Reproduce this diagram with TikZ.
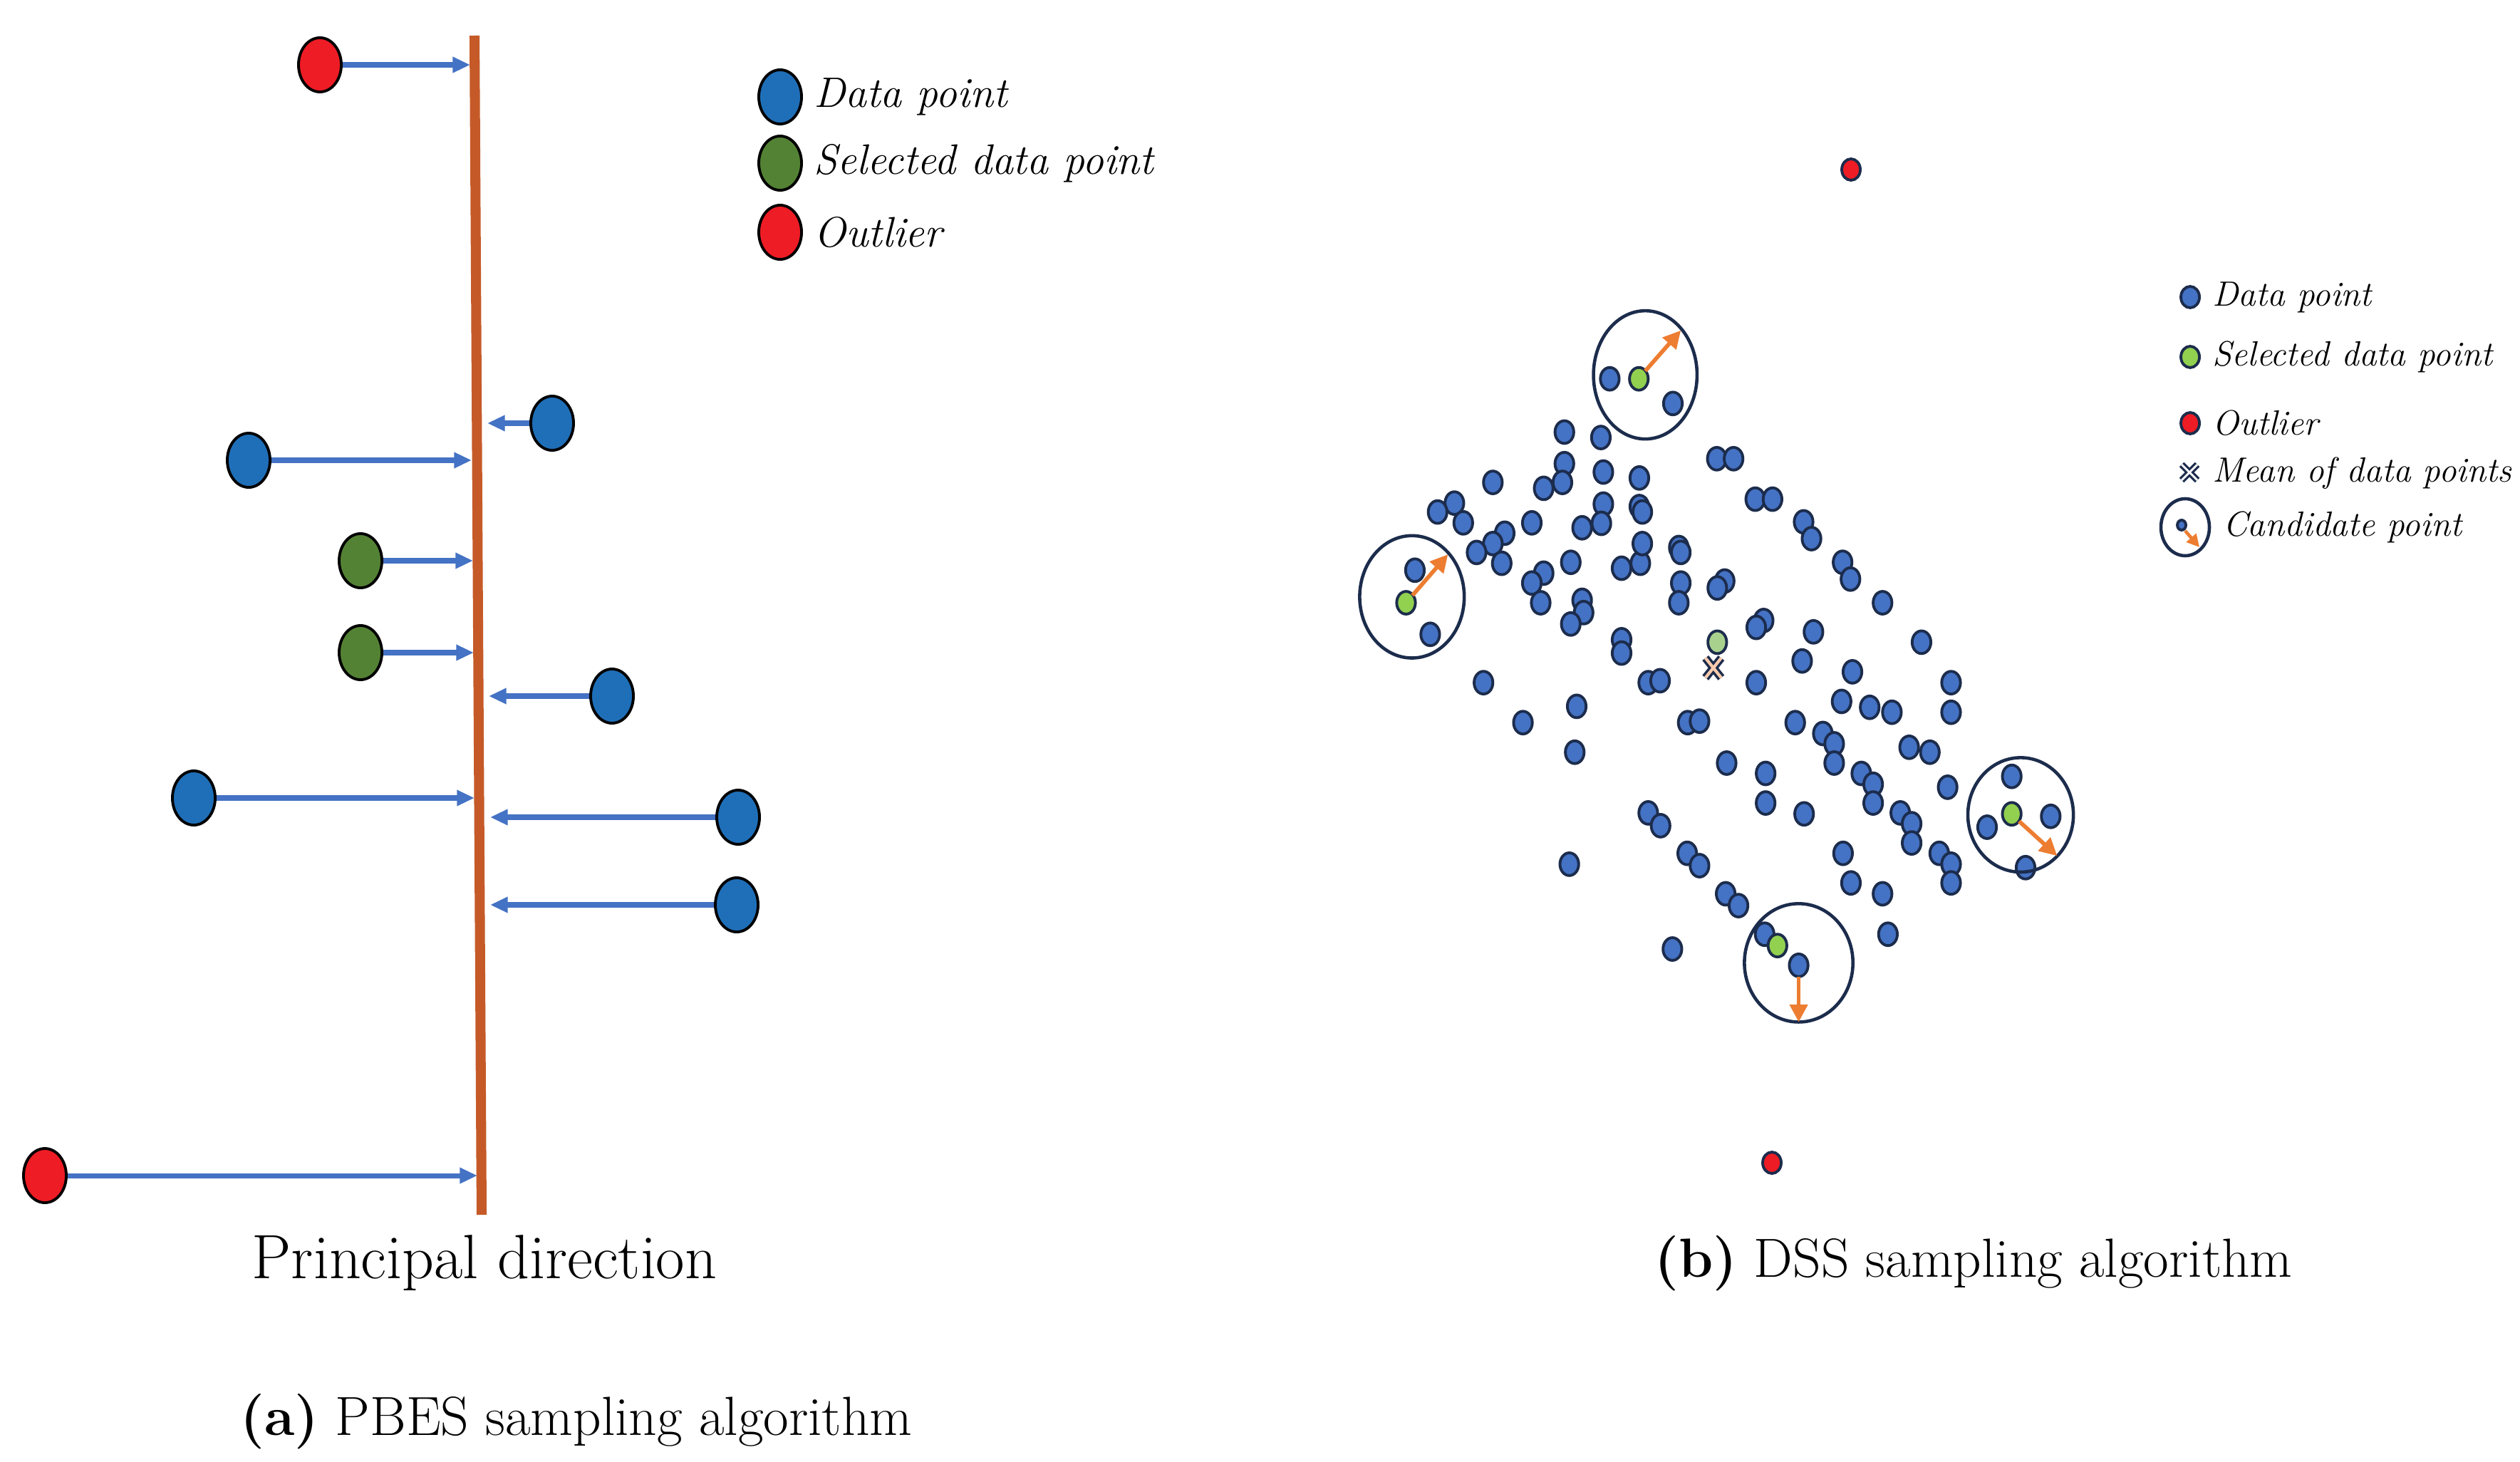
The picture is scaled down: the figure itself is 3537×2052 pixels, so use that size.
\documentclass[tikz,border=0pt]{standalone}
\usetikzlibrary{shapes.geometric,arrows.meta}
\definecolor{ob}{HTML}{C55A28}
\definecolor{ab}{HTML}{4472C4}
\definecolor{pb}{HTML}{1F6FB8}
\definecolor{pg}{HTML}{548235}
\definecolor{rd}{HTML}{EE1C25}
\definecolor{dk}{HTML}{1C2C4C}
\definecolor{lg}{HTML}{92D050}
\definecolor{lg2}{HTML}{A9D18E}
\definecolor{orr}{HTML}{ED7D31}
\definecolor{pk}{HTML}{F8CBAD}
\tikzset{
 pt/.style={ellipse,draw=black,line width=1.1pt,minimum width=0.6cm,minimum height=0.76cm,inner sep=0pt},
 pblue/.style={pt,fill=pb}, pgreen/.style={pt,fill=pg}, pred/.style={pt,fill=rd},
 parr/.style={draw=ab,line width=2pt,-{Triangle[length=7pt,width=6pt]}},
 leg/.style={anchor=west,font=\fontsize{17}{19}\selectfont\itshape},
 legs/.style={anchor=west,font=\fontsize{14}{16}\selectfont\itshape},
 captext/.style={font=\fontsize{22}{26}\selectfont},
 dot/.style={draw=dk,line width=1.1pt,fill=ab},
 ring/.style={draw=dk,line width=1.3pt},
 oarr/.style={draw=orr,line width=1.6pt,-{Triangle[length=7pt,width=7pt]}}
}
\begin{document}
\begin{tikzpicture}[x=0.01cm,y=-0.01cm]
\useasboundingbox[fill=white] (0,0) rectangle (3537,2052);
% principal direction
\coordinate (lt) at (666,50); \coordinate (lb) at (676,1705);
\draw[ob,line width=4pt] (lt) -- (lb);
\foreach \n/\s/\x/\y/\tx in {a/pred/449/91/660, b/pblue/775/594/684, c/pblue/349/646/662, d/pgreen/506/787/664, e/pgreen/506/916/665, f/pblue/859/977/686, g/pblue/272/1120/666, h/pblue/1036/1147/688, i/pblue/1034/1270/688, j/pred/63/1650/670}{
 \node[\s] (\n) at (\x,\y) {};
 \coordinate (\n t) at (\tx,\y);
 \draw[parr] (\n) -- (\n t);
}
% left legend
\node[pblue] (l1) at (1095,136) {}; \node[leg] (l1t) at (1130,136) {Data point};
\node[pgreen] (l2) at (1095,229) {}; \node[leg] (l2t) at (1130,229) {Selected data point};
\node[pred] (l3) at (1095,326) {}; \node[leg] (l3t) at (1130,326) {Outlier};
\node[captext,font=\fontsize{25}{28}\selectfont] (c1) at (680,1773) {Principal direction};
\node[captext] (c2) at (809,1995) {\textbf{(a)} PBES sampling algorithm};
\node[captext] (c3) at (2770,1773) {\textbf{(b)} DSS sampling algorithm};
% scatter
\begin{scope}[shift={(1880,396)},scale=0.6923]
\foreach \x/\y in {456/304,530/315,456/368,452/406,414/418,535/385,608/397,765/358,799/358,311/406,233/448,199/466,251/488,390/488,535/450,608/455,614/466,531/489,492/498,843/440,878/440,941/486,957/520,335/509,311/530,278/548,329/570,469/568,572/580,610/570,614/530,688/538,692/548,1020/568,1036/602,414/590,390/610,492/645,408/650,495/670,469/693,692/610,688/650,781/606,766/620,860/686,845/700,1101/650,961/709,572/725,572/752,1180/730,938/768,1040/790,292/812,626/812,650/808,845/812,1240/812,1018/850,1075/862,1120/872,1240/872,481/860,372/893,706/893,730/890,924/893,980/915,1003/936,1155/943,1197/953,477/953,785/975,1003/975,864/996,1058/996,1082/1018,1233/1024,864/1056,1082/1056,942/1078,1137/1076,1160/1098,1160/1137,626/1076,651/1102,1021/1158,1216/1158,1240/1180,1240/1218,705/1158,730/1183,466/1180,1037/1218,1101/1240,783/1240,809/1264,1112/1322,675/1352,
 548/196,676/246,153/584,184/714,1363/1002,1313/1105,1442/1083,1391/1187,862/1322,931/1385}
 \draw[dot] (\x,\y) ellipse [x radius=19,y radius=23];
\foreach \x/\y in {607/196,135/650,1363/1078,888/1345}
 \draw[dot,fill=lg] (\x,\y) ellipse [x radius=19,y radius=23];
\draw[dot,fill=lg2] (766,730) ellipse [x radius=19,y radius=23];
\draw[dk,line width=3.2pt] (742,762) -- (774,802) (774,762) -- (742,802);
\draw[pk,line width=1.2pt] (742,762) -- (774,802) (774,762) -- (742,802);
\draw[ring] (620,188) ellipse [x radius=105,y radius=130];
\draw[ring] (147,638) ellipse [x radius=106,y radius=124];
\draw[ring] (1381,1080) ellipse [x radius=107,y radius=116];
\draw[ring] (931,1380) ellipse [x radius=110,y radius=120];
\coordinate (q1) at (620,180); \coordinate (q2) at (692,98);
\coordinate (q3) at (148,635); \coordinate (q4) at (220,552);
\coordinate (q5) at (1378,1093); \coordinate (q6) at (1455,1163);
\coordinate (q7) at (931,1408); \coordinate (q8) at (931,1500);
\draw[oarr] (q1) -- (q2); \draw[oarr] (q3) -- (q4);
\draw[oarr] (q5) -- (q6); \draw[oarr] (q7) -- (q8);
\end{scope}
\draw[dot,fill=rd] (2598,238) ellipse [x radius=13,y radius=15];
\draw[dot,fill=rd] (2487,1632) ellipse [x radius=13,y radius=15];
% right legend
\draw[dot] (3074,417) ellipse [x radius=13,y radius=15];
\node[legs] (r1) at (3093,417) {Data point};
\draw[dot,fill=lg] (3074,501) ellipse [x radius=13,y radius=15];
\node[legs] (r2) at (3093,501) {Selected data point};
\draw[dot,fill=rd] (3074,594) ellipse [x radius=13,y radius=15];
\node[legs] (r3) at (3093,594) {Outlier};
\draw[dk,line width=2.6pt] (3062,652) -- (3084,674) (3084,652) -- (3062,674);
\draw[white,line width=0.8pt] (3062,652) -- (3084,674) (3084,652) -- (3062,674);
\node[legs] (r4) at (3093,664) {Mean of data points};
\draw[ring] (3067,740) ellipse [x radius=34,y radius=40];
\draw[dot] (3062,737) ellipse [x radius=6,y radius=7];
\coordinate (ca) at (3067,745); \coordinate (cb) at (3087,768);
\draw[oarr,line width=1.3pt,-{Triangle[length=5pt,width=5pt]}] (ca) -- (cb);
\node[legs] (r5) at (3108,740) {Candidate point};
\end{tikzpicture}
\end{document}
